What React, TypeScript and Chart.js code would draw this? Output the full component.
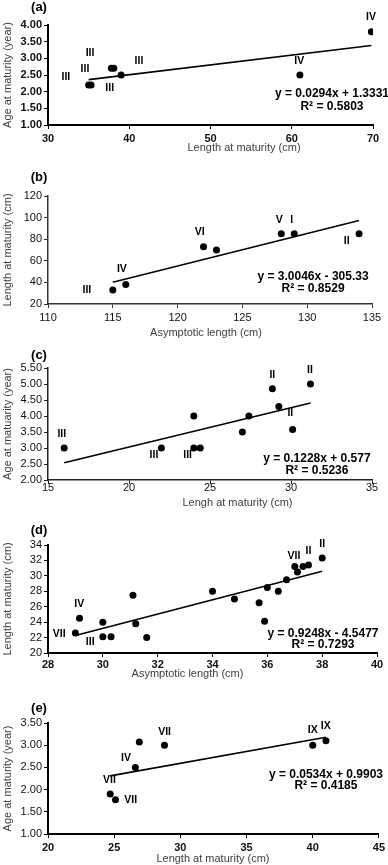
import React, { useEffect, useRef } from 'react';
import { Chart, registerables } from 'chart.js';

Chart.register(...registerables);

const FONT = "'Liberation Sans', Arial, Helvetica, sans-serif";

// ---------- Panel (a) ----------
const aLength = [35, 35.3, 37.8, 38.1, 39, 61, 69.8];
const aAge = [2.2, 2.2, 2.7, 2.7, 2.5, 2.5, 3.8];
const aTagText = ['III', 'III', 'III', 'III', 'III', 'IV', 'IV'];
const aTagX = [32.2, 34.55, 35.17, 37.6, 41.2, 60.93, 69.75];
const aTagY = [2.45, 2.67, 3.15, 2.1, 2.92, 2.93, 4.23];
const aFit = [0.0294, 1.3331];
const aR2 = '0.5803';
const aXRange = [30, 70, 10];
const aYRange = [1, 4, 0.5];

// ---------- Panel (b) ----------
const bAsym = [115, 116, 122, 123, 128, 129, 134];
const bLength = [33, 38, 73, 70, 85, 85, 85];
const bTagText = ['III', 'IV', 'VI', 'V', 'I', 'II'];
const bTagX = [113.0, 115.7, 121.7, 127.85, 128.8, 133.05];
const bTagY = [33, 52, 86.7, 97.8, 97.8, 78.6];
const bFit = [3.0046, -305.33];
const bR2 = '0.8529';
const bXRange = [110, 135, 5];
const bYRange = [20, 120, 20];

// ---------- Panel (c) ----------
const cLength = [16, 22, 24, 24, 24.4, 27, 27.4, 28.85, 29.25, 30.1, 31.2];
const cAge = [3.0, 3.0, 4.0, 3.0, 3.0, 3.5, 4.0, 4.85, 4.3, 3.58, 5.0];
const cTagText = ['III', 'III', 'III', 'II', 'II', 'II'];
const cTagX = [15.85, 21.54, 23.62, 28.85, 31.17, 29.96];
const cTagY = [3.44, 2.78, 2.78, 5.28, 5.42, 4.1];
const cFit = [0.1228, 0.577];
const cR2 = '0.5236';
const cXRange = [15, 35, 5];
const cYRange = [2, 5.5, 0.5];

// ---------- Panel (d) ----------
const dAsym = [29, 29.15, 30, 30, 30.3, 31.1, 31.2, 31.6, 34, 34.8, 35.7, 35.9, 36, 36.4, 36.7, 37, 37.1, 37.3, 37.5, 38];
const dLength = [22.6, 24.5, 24, 22.1, 22.1, 27.5, 23.8, 22, 28, 27, 26.5, 24.1, 28.5, 28, 29.5, 31.2, 30.5, 31.2, 31.4, 32.3];
const dTagText = ['VII', 'IV', 'III', 'VII', 'II', 'II'];
const dTagX = [28.41, 29.14, 29.54, 36.97, 37.5, 38.0];
const dTagY = [22.45, 26.3, 21.4, 32.6, 33.2, 34.1];
const dFit = [0.9248, -4.5477];
const dR2 = '0.7293';
const dXRange = [28, 40, 2];
const dYRange = [20, 34, 2];

// ---------- Panel (e) ----------
const eLength = [24.7, 25.1, 26.6, 26.9, 28.8, 40, 41];
const eAge = [1.9, 1.77, 2.5, 3.07, 3.0, 3.0, 3.1];
const eTagText = ['VII', 'VII', 'IV', 'VII', 'IX', 'IX'];
const eTagX = [24.64, 26.25, 25.89, 28.81, 40, 40.98];
const eTagY = [2.22, 1.77, 2.7, 3.3, 3.33, 3.42];
const eFit = [0.0534, 0.9903];
const eR2 = '0.4185';
const eXRange = [20, 45, 5];
const eYRange = [1, 3.5, 0.5];

type PanelDef = {
  letter: string;
  xs: number[];
  ys: number[];
  tagText: string[];
  tagX: number[];
  tagY: number[];
  fit: number[];
  r2: string;
  xRange: number[];
  yRange: number[];
  yDecimals: number;
  xTitle: string;
  yTitle: string;
  // layout / style
  top: number;
  height: number;
  padTop: number;
  padRight: number;
  xAxisH: number;
  xTickPad: number;
  xBold: boolean;
  yBold: boolean;
  borderW: number;
  borderC: string;
  eqX: number;
  eqY: number[];
  letterDy: number;
  xTitleDx: number;
  xTitleDy: number;
};

const panels: PanelDef[] = [
  {
    letter: '(a)', xs: aLength, ys: aAge, tagText: aTagText, tagX: aTagX, tagY: aTagY,
    fit: aFit, r2: aR2, xRange: aXRange, yRange: aYRange, yDecimals: 2,
    xTitle: 'Length at maturity (cm)', yTitle: 'Age at maturity (year)',
    top: 0, height: 160, padTop: 25, padRight: 15, xAxisH: 35, xTickPad: 3,
    xBold: true, yBold: true, borderW: 2, borderC: '#000',
    eqX: 64.95, eqY: [1.93, 1.54], letterDy: 17.5, xTitleDx: 33.5, xTitleDy: 23,
  },
  {
    letter: '(b)', xs: bAsym, ys: bLength, tagText: bTagText, tagX: bTagX, tagY: bTagY,
    fit: bFit, r2: bR2, xRange: bXRange, yRange: bYRange, yDecimals: 0,
    xTitle: 'Asymptotic length (cm)', yTitle: 'Length at maturity (cm)',
    top: 165, height: 175, padTop: 31, padRight: 16, xAxisH: 36, xTickPad: 3,
    xBold: false, yBold: false, borderW: 1.5, borderC: '#333',
    eqX: 130.45, eqY: [45.3, 34.5], letterDy: 19, xTitleDx: -4, xTitleDy: 29,
  },
  {
    letter: '(c)', xs: cLength, ys: cAge, tagText: cTagText, tagX: cTagX, tagY: cTagY,
    fit: cFit, r2: cR2, xRange: cXRange, yRange: cYRange, yDecimals: 2,
    xTitle: 'Lengh at maturity (cm)', yTitle: 'Age at matuarity (year)',
    top: 340, height: 172, padTop: 28, padRight: 16, xAxisH: 32, xTickPad: -3,
    xBold: false, yBold: false, borderW: 1.5, borderC: '#222',
    eqX: 31.6, eqY: [2.68, 2.29], letterDy: 13, xTitleDx: 27.5, xTitleDy: 23,
  },
  {
    letter: '(d)', xs: dAsym, ys: dLength, tagText: dTagText, tagX: dTagX, tagY: dTagY,
    fit: dFit, r2: dR2, xRange: dXRange, yRange: dYRange, yDecimals: 0,
    xTitle: 'Asymptotic length (cm)', yTitle: 'Length at maturity (cm)',
    top: 512, height: 170, padTop: 33, padRight: 11, xAxisH: 29, xTickPad: 1,
    xBold: true, yBold: false, borderW: 2, borderC: '#000',
    eqX: 38.03, eqY: [22.55, 21.03], letterDy: 15, xTitleDx: -25, xTitleDy: 20.5,
  },
  {
    letter: '(e)', xs: eLength, ys: eAge, tagText: eTagText, tagX: eTagX, tagY: eTagY,
    fit: eFit, r2: eR2, xRange: eXRange, yRange: eYRange, yDecimals: 2,
    xTitle: 'Length at maturity (cm)', yTitle: 'Age at maturity (year)',
    top: 682, height: 183, padTop: 41, padRight: 6, xAxisH: 31, xTickPad: 3,
    xBold: true, yBold: false, borderW: 2, borderC: '#000',
    eqX: 41.0, eqY: [2.34, 2.08], letterDy: 14.7, xTitleDx: -0.5, xTitleDy: 25,
  },
];

function eqText(fit: number[]) {
  const [m, b] = fit;
  const sign = b < 0 ? '-' : '+';
  return `y = ${m}x ${sign} ${Math.abs(b)}`;
}

function Panel({ p }: { p: PanelDef }) {
  const ref = useRef<HTMLCanvasElement | null>(null);
  useEffect(() => {
    if (!ref.current) return;
    const xMin = Math.min(...p.xs);
    const xMax = Math.max(...p.xs);
    const trend = [xMin, xMax].map((x) => ({ x, y: p.fit[0] * x + p.fit[1] }));

    const textPlugin = {
      id: 'panelText',
      afterDatasetsDraw(chart: any) {
        const { ctx, chartArea } = chart;
        const sx = chart.scales.x;
        const sy = chart.scales.y;
        ctx.save();
        ctx.fillStyle = '#000';
        ctx.textAlign = 'center';
        ctx.textBaseline = 'middle';
        ctx.font = `bold 10.5px ${FONT}`;
        p.tagText.forEach((t, i) => {
          ctx.fillText(t, sx.getPixelForValue(p.tagX[i]), sy.getPixelForValue(p.tagY[i]));
        });
        ctx.font = `bold 12px ${FONT}`;
        const ex = sx.getPixelForValue(p.eqX);
        ctx.fillText(eqText(p.fit), ex, sy.getPixelForValue(p.eqY[0]));
        ctx.fillText(`R² = ${p.r2}`, ex, sy.getPixelForValue(p.eqY[1]));
        ctx.font = `bold 13px ${FONT}`;
        ctx.fillText(p.letter, chartArea.left - 9, chartArea.top - p.letterDy);
        ctx.font = `11px ${FONT}`;
        ctx.fillStyle = '#404040';
        ctx.fillText(p.xTitle, (chartArea.left + chartArea.right) / 2 + p.xTitleDx, chartArea.bottom + p.xTitleDy);
        ctx.restore();
      },
    };

    const chart = new Chart(ref.current, {
      type: 'scatter',
      data: {
        datasets: [
          {
            type: 'line',
            data: trend,
            borderColor: '#000',
            borderWidth: 1.6,
            pointRadius: 0,
            showLine: true,
            fill: false,
          } as any,
          {
            data: p.xs.map((x, i) => ({ x, y: p.ys[i] })),
            backgroundColor: '#000',
            borderColor: '#000',
            borderWidth: 0,
            pointRadius: 3.5,
          },
        ],
      },
      options: {
        responsive: false,
        animation: false,
        devicePixelRatio: 1,
        layout: { padding: { top: p.padTop, right: p.padRight, bottom: 0, left: 0 } },
        plugins: { legend: { display: false }, tooltip: { enabled: false } },
        scales: {
          x: {
            type: 'linear',
            min: p.xRange[0],
            max: p.xRange[1],
            afterFit: (s: any) => { s.height = p.xAxisH; },
            ticks: {
              stepSize: p.xRange[2],
              autoSkip: false,
              color: '#111',
              padding: p.xTickPad,
              maxRotation: 0,
              font: { family: FONT, size: 11, weight: p.xBold ? 'bold' : 'normal' },
            },
            grid: { drawOnChartArea: false, drawTicks: true, tickLength: 4, color: p.borderC },
            border: { display: true, color: p.borderC, width: p.borderW },
            title: { display: false },
          },
          y: {
            type: 'linear',
            min: p.yRange[0],
            max: p.yRange[1],
            afterFit: (s: any) => { s.width = 48; },
            ticks: {
              stepSize: p.yRange[2],
              autoSkip: false,
              color: '#111',
              padding: 2,
              callback: (v: any) => Number(v).toFixed(p.yDecimals),
              font: { family: FONT, size: 11, weight: p.yBold ? 'bold' : 'normal' },
            },
            grid: { drawOnChartArea: false, drawTicks: true, tickLength: 4, color: p.borderC },
            border: { display: true, color: p.borderC, width: p.borderW },
            title: {
              display: true,
              text: p.yTitle,
              color: '#404040',
              padding: { top: 1, bottom: 0 },
              font: { family: FONT, size: 11 },
            },
          },
        },
      },
      plugins: [textPlugin],
    });
    return () => chart.destroy();
  }, [p]);

  return (
    <div style={{ position: 'absolute', left: 0, top: p.top, width: 388, height: p.height }}>
      <canvas ref={ref} width={388} height={p.height} style={{ display: 'block' }} />
    </div>
  );
}

export default function App() {
  return (
    <div style={{ position: 'absolute', left: 0, top: 0, width: 388, height: 865, background: '#fff', overflow: 'hidden' }}>
      {panels.map((p) => (
        <Panel key={p.letter} p={p} />
      ))}
    </div>
  );
}
